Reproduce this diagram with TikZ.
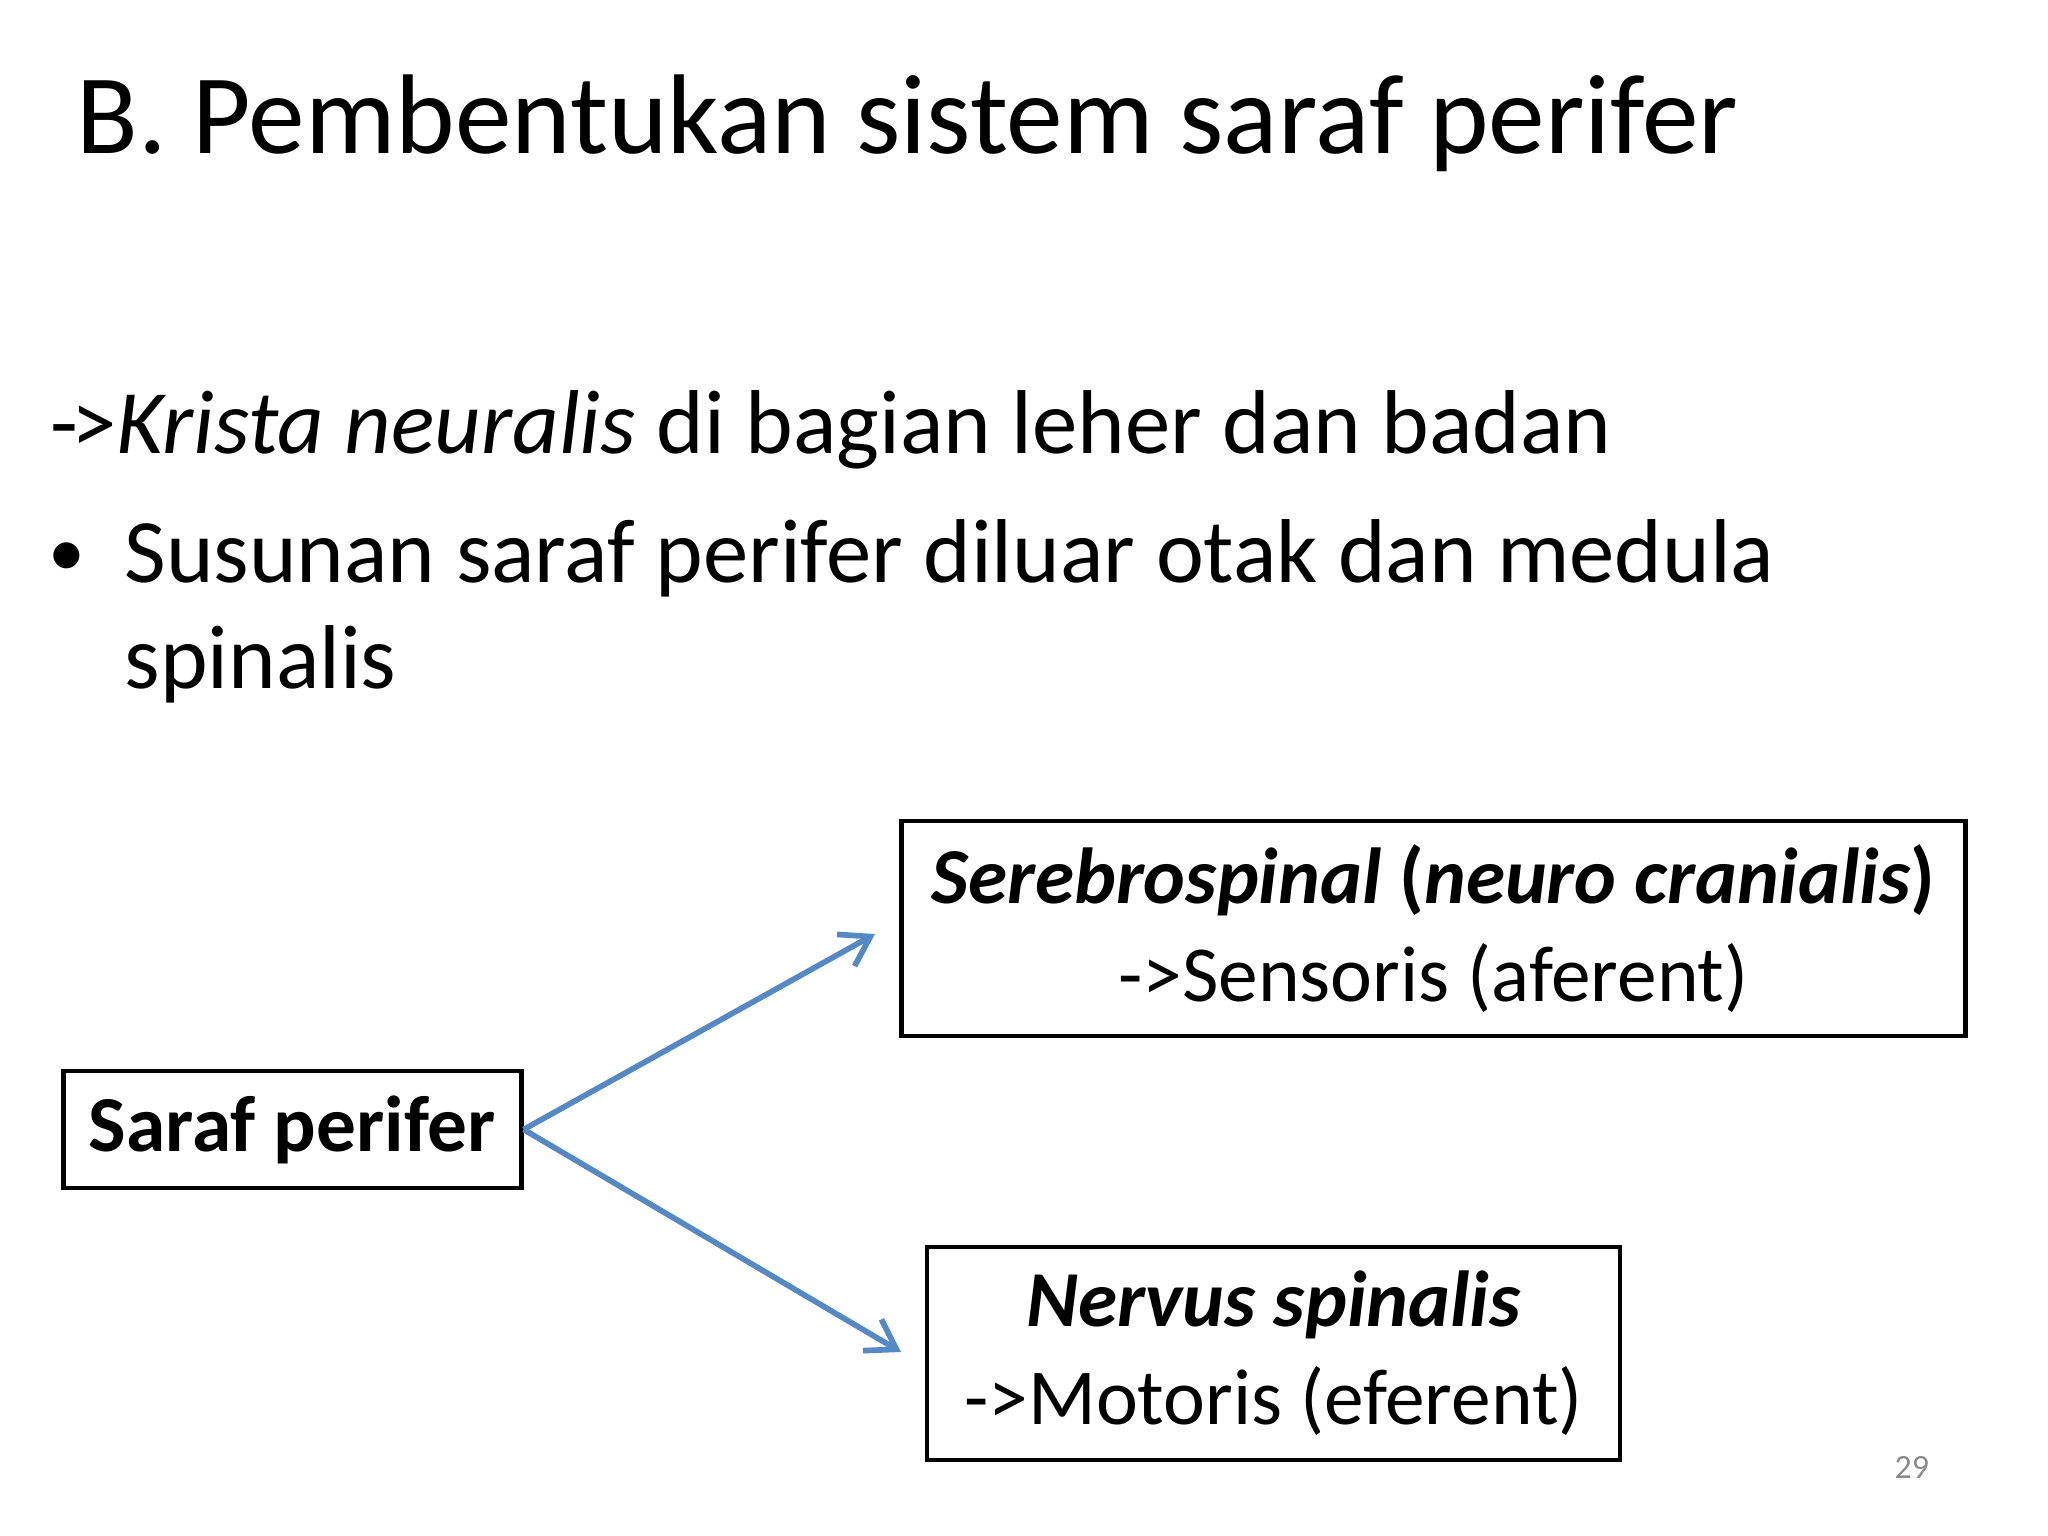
\documentclass[tikz,border=0pt]{standalone}
\usepackage{fontspec}
\setmainfont{Carlito}
\usetikzlibrary{arrows.meta,positioning}
\definecolor{cArr} {HTML}{5489C6}
\definecolor{cPage}{HTML}{8C8C8C}
\newcommand{\sizeTitle}{\fontsize{40}{48}\selectfont}
\newcommand{\sizeBody}{\fontsize{32}{38}\selectfont}
\newcommand{\sizeBox}{\fontsize{28}{34.5}\selectfont}
\tikzset{
  txt/.style    ={inner sep=0pt,anchor=base west,text=black},
  boxnode/.style={draw=black,line width=1.5pt,align=center,inner sep=0pt,
                  font=\sizeBox},
  link/.style   ={-{Straight Barb[length=3.5mm,width=4.5mm]},draw=cArr,
                  line width=2pt},
}
\begin{document}
\begin{tikzpicture}[x=0.35156bp, y=-0.35156bp]
\useasboundingbox (0,0) rectangle (2048,1536);

% ---- title ---------------------------------------------------------------
\node[txt,font=\sizeTitle] (title) at (76,154) {B. Pembentukan sistem saraf perifer};

% ---- text ----------------------------------------------------------------
\node[txt,font=\sizeBody] (krista) at (50,453)
  {-\kern-0.08em>\textit{Krista neuralis} di bagian leher dan badan};
\node[txt,font=\fontsize{26}{30}\selectfont] (bullet) at (48,576) {•};
\node[txt,font=\sizeBody] (susunan) at (124,582)
  {Susunan saraf perifer diluar otak dan medula};
\node[txt,font=\sizeBody] (spinalis) at (124,688) {spinalis};

% ---- boxes ---------------------------------------------------------------
\node[boxnode,minimum width=161bp,minimum height=41bp] (saraf) at (292.5,1129.5)
  {\textbf{Saraf perifer}};
\node[boxnode,minimum width=374bp,minimum height=75.5bp] (sere) at (1433.5,928.5)
  {\textbf{\textit{Serebrospinal} (\textit{neuro cranialis})}\\->Sensoris (aferent)};
\node[boxnode,minimum width=243.5bp,minimum height=75bp] (nervus) at (1273.5,1353.5)
  {\textbf{\textit{Nervus spinalis}}\\->Motoris (eferent)};

% ---- arrows end short of the boxes ---------------------------------------
\coordinate (tipS) at (875,934);
\coordinate (tipN) at (901,1352);
\draw[link] (saraf.east) -- (tipS);
\draw[link] (saraf.east) -- (tipN);

% ---- slide number --------------------------------------------------------
\node[txt,font=\fontsize{12}{14}\selectfont,text=cPage] (page) at (1894,1478) {29};
\end{tikzpicture}
\end{document}
